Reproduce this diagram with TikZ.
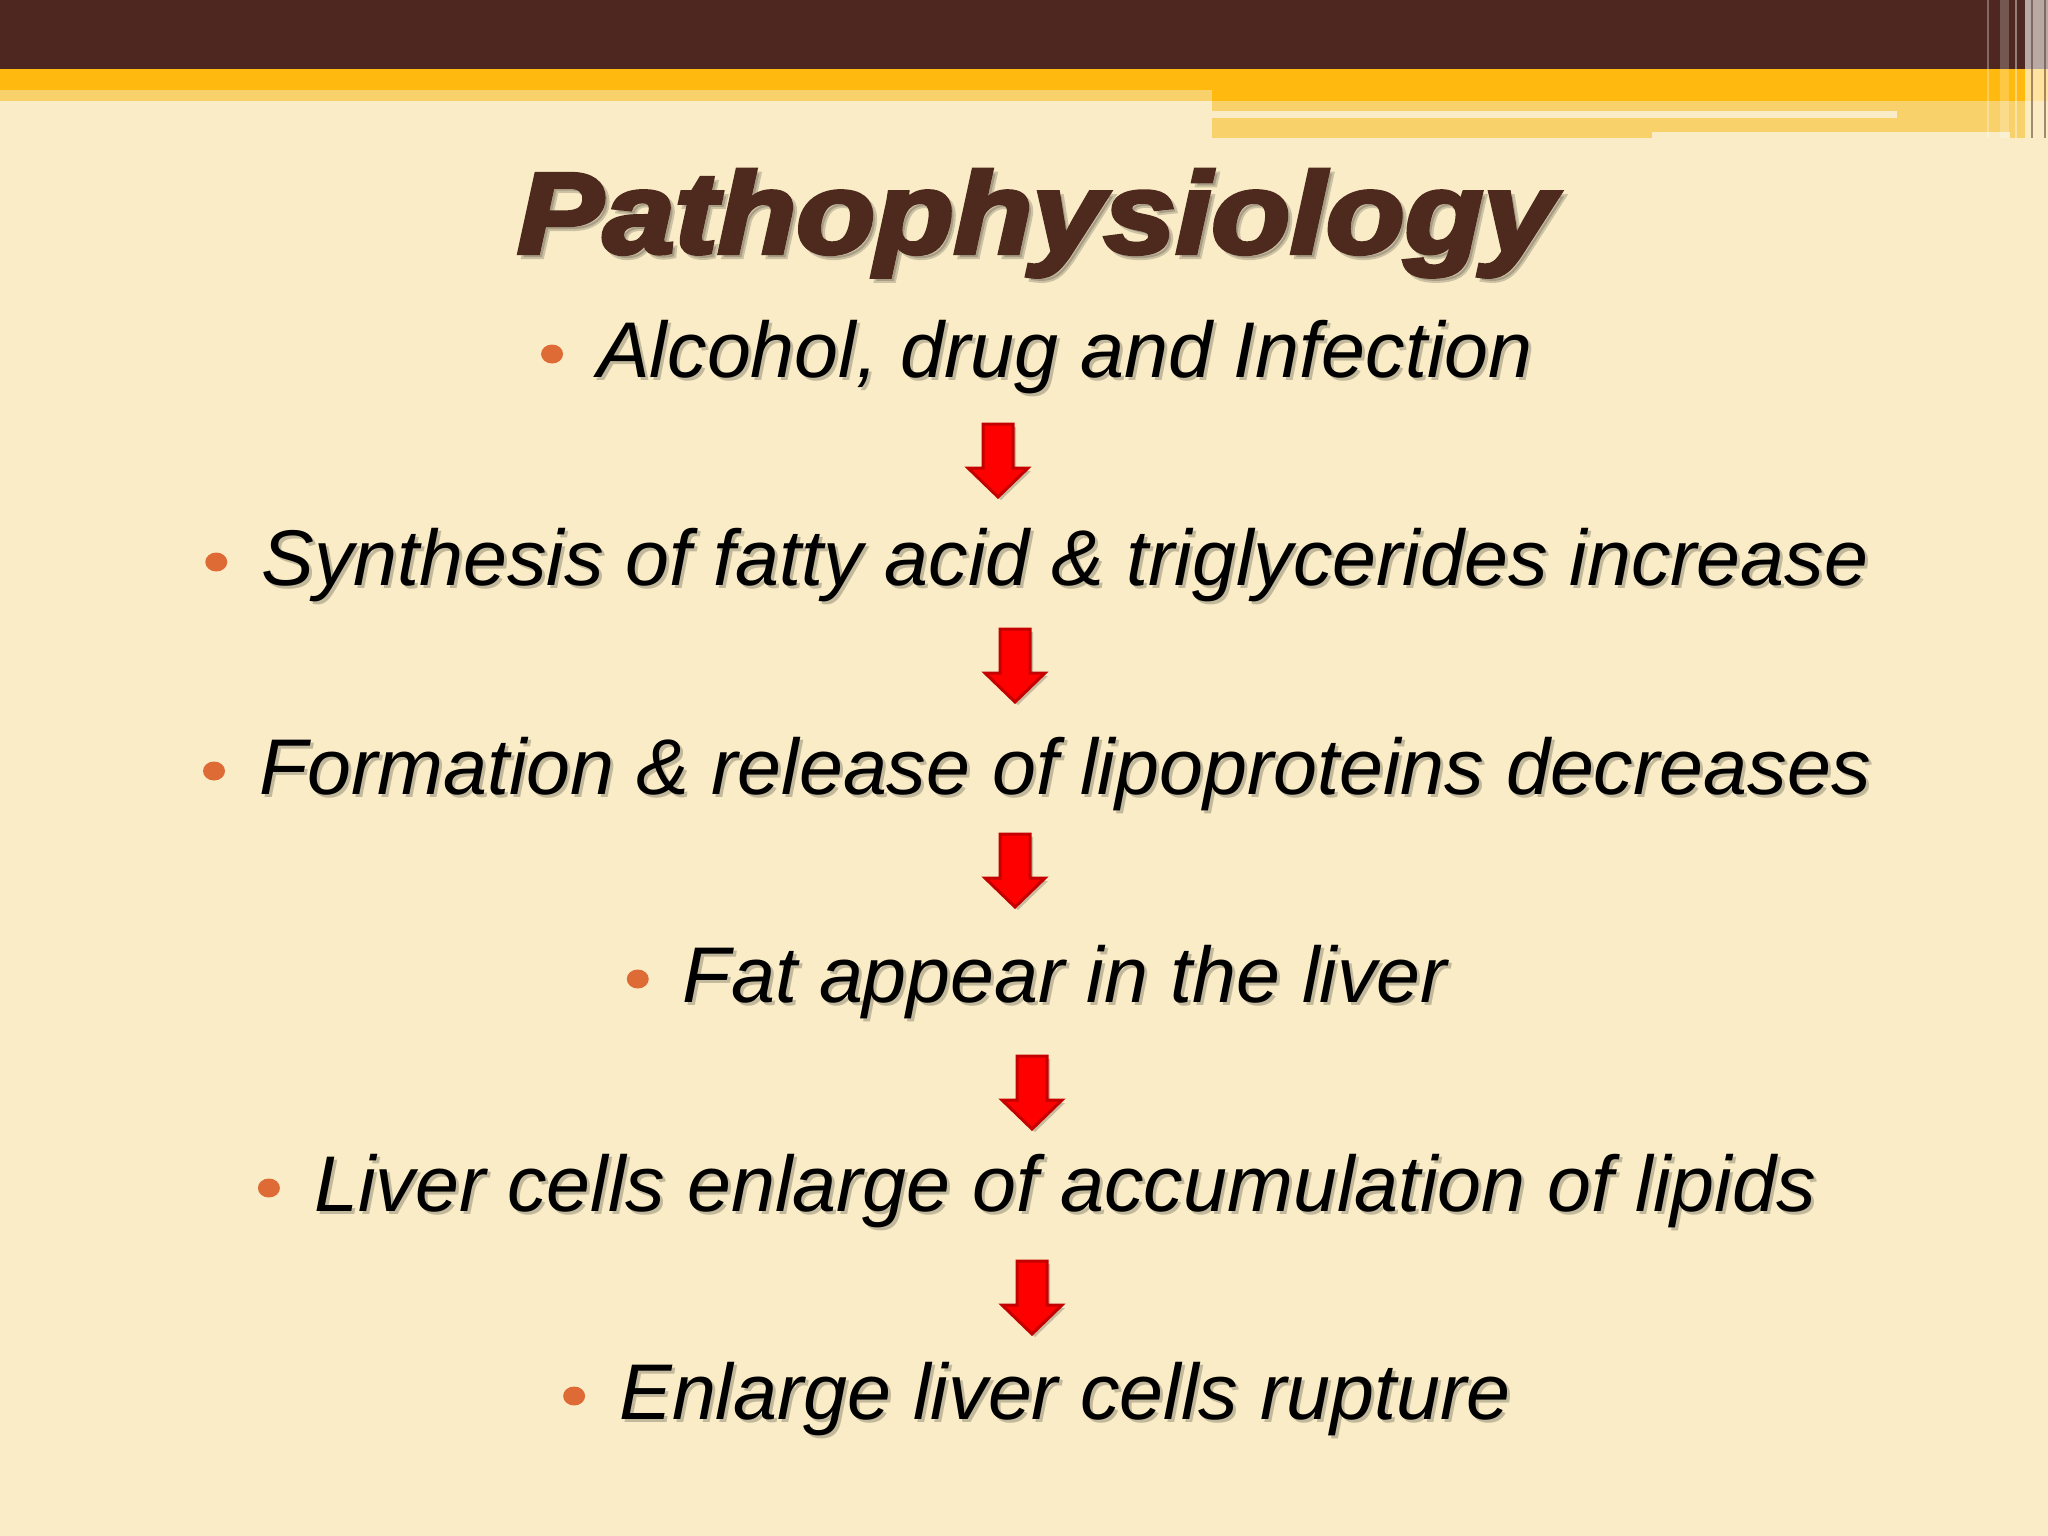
\documentclass[tikz,border=0pt]{standalone}
\usepackage{fontspec}
\setmainfont{Liberation Sans}
\newfontfamily\titlefont{Liberation Sans Bold Italic}[FakeBold=3.5]
\usetikzlibrary{calc}

\definecolor{barbrown}{HTML}{4E2820}
\definecolor{barorange}{HTML}{FFB90F}
\definecolor{baryellow}{HTML}{F9D16B}
\definecolor{slidebg}{HTML}{F9ECC7}
\definecolor{titlebrown}{HTML}{4E2A1E}
\definecolor{bulletc}{HTML}{DE6B35}
\definecolor{arrowred}{HTML}{FF0000}
\definecolor{arrowedge}{HTML}{C40000}

\tikzset{
  item/.style={anchor=base, inner sep=0pt, font=\fontsize{79}{90}\selectfont\itshape},
  itemshadow/.style={item, text=black, opacity=0.22},
  arrowbody/.style={fill=arrowred, draw=arrowedge, line width=3pt, line join=miter},
  downarr/.pic={
    \fill[black, opacity=0.2] (-12,3) -- (18,3) -- (18,47) -- (33,47) -- (3,76) -- (-27,47) -- (-12,47) -- cycle;
    \filldraw[arrowbody] (-15,0) -- (15,0) -- (15,44) -- (30,44) -- (0,73) -- (-30,44) -- (-15,44) -- cycle;
  }
}

% one bulleted step: name, baseline, text
\newcommand{\stepline}[3]{%
  \node[itemshadow] at (1068,#2+3) {#3};
  \node[item] (#1) at (1065,#2) {#3};
  \fill[bulletc] ($(#1.base west)+(-45,-23)$) ellipse [x radius=11pt, y radius=9.5pt];
}

\begin{document}
\begin{tikzpicture}[x=1pt, y=-1pt]
    % Slide background
    \fill[slidebg] (0,0) rectangle (2048,1536);
    \useasboundingbox (0,0) rectangle (2048,1536);

    % Top bar
    \fill[baryellow] (1212,101) rectangle (2048,138);
    \fill[slidebg] (1212,111) rectangle (1897,118);
    \fill[slidebg] (1652,132) rectangle (2010,138);
    \fill[baryellow] (0,90) rectangle (1212,101);
    \fill[barorange] (0,69) rectangle (1212,90);
    \fill[barorange] (1212,69) rectangle (2048,101);
    \fill[barbrown] (0,0) rectangle (2048,69);

    % Stripes at the right end of the bar
    \fill[white, opacity=0.3] (1987,0) rectangle (1988.5,138);
    \fill[white, opacity=0.22] (2000,0) rectangle (2009,138);
    \fill[white, opacity=0.4] (2015,0) rectangle (2017,138);
    \fill[white, opacity=0.6] (2025,0) rectangle (2048,138);
    \fill[barbrown, opacity=0.5] (2031,0) rectangle (2033,138);
    \fill[barbrown, opacity=0.5] (2044,0) rectangle (2046,138);

    % Title
    \node[anchor=base, inner sep=0pt, text=black, opacity=0.18, xscale=1.12,
      font=\titlefont\fontsize{115}{120}\selectfont] at (1040,257) {Pathophysiology};
    \node[anchor=base, inner sep=0pt, text=titlebrown, xscale=1.12,
      font=\titlefont\fontsize{115}{120}\selectfont] (title) at (1036,253) {Pathophysiology};

    % Steps
    \stepline{cause}{377}{Alcohol, drug and Infection}
    \stepline{synth}{585}{Synthesis of fatty acid \& triglycerides increase}
    \stepline{lipo}{794}{Formation \& release of lipoproteins decreases}
    \stepline{fat}{1002}{Fat appear in the liver}
    \stepline{enlarge}{1211}{Liver cells enlarge of accumulation of lipids}
    \stepline{rupture}{1419}{Enlarge liver cells rupture}

    % Block arrows between the steps
    \coordinate (a1) at (998,424);
    \coordinate (a2) at (1015,629);
    \coordinate (a3) at (1015,834);
    \coordinate (a4) at (1032,1056);
    \coordinate (a5) at (1032,1261);
    \foreach \a in {a1,a2,a3,a4,a5}
        \pic at (\a) {downarr};
\end{tikzpicture}
\end{document}
